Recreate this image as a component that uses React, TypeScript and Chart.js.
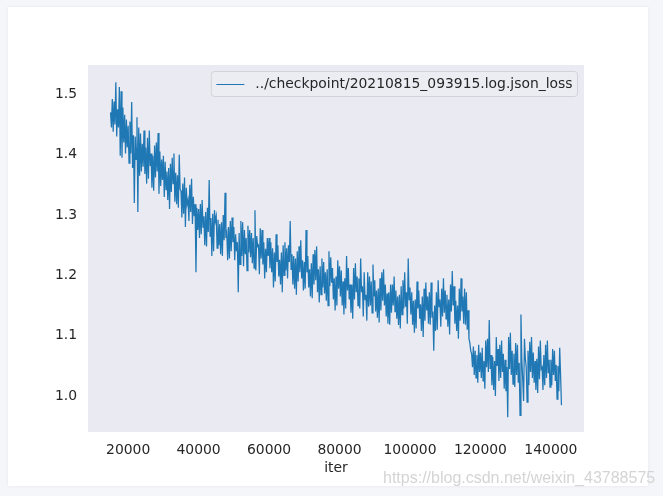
import React, { useEffect, useRef } from "react";
import { Chart, registerables } from "chart.js";

Chart.register(...registerables);

// ---- data ----
const SERIES_LABEL = "../checkpoint/20210815_093915.log.json_loss";
const X_TITLE = "iter";
const ITER_START = 15000;
const ITER_STEP = 250;
const X_TICKS = [20000, 40000, 60000, 80000, 100000, 120000, 140000];
const Y_TICKS = [1.0, 1.1, 1.2, 1.3, 1.4, 1.5];
const X_RANGE = [8600, 149400];
const Y_RANGE = [0.9405, 1.5485];

// loss values every 250 iterations from 15000 to 143000
const LOSS = [
  1.470, 1.445, 1.492, 1.438, 1.488, 1.450, 1.520, 1.430, 1.475, 1.445, 1.512, 1.398, 1.505, 1.395, 1.478, 1.420, 1.466, 1.402, 1.458, 1.412,
  1.448, 1.386, 1.455, 1.402, 1.487, 1.378, 1.432, 1.320, 1.430, 1.392, 1.462, 1.305, 1.445, 1.365, 1.435, 1.372, 1.418, 1.380, 1.440, 1.368,
  1.412, 1.352, 1.428, 1.360, 1.440, 1.381, 1.402, 1.345, 1.398, 1.340, 1.415, 1.362, 1.420, 1.372, 1.436, 1.335, 1.405, 1.348, 1.392, 1.358,
  1.398, 1.330, 1.388, 1.342, 1.372, 1.325, 1.378, 1.310, 1.385, 1.338, 1.395, 1.352, 1.402, 1.322, 1.370, 1.318, 1.366, 1.312, 1.400, 1.342,
  1.340, 1.296, 1.352, 1.302, 1.362, 1.280, 1.345, 1.318, 1.325, 1.290, 1.350, 1.305, 1.360, 1.285, 1.330, 1.298, 1.318, 1.205, 1.312, 1.275,
  1.310, 1.262, 1.318, 1.268, 1.325, 1.280, 1.298, 1.250, 1.305, 1.248, 1.312, 1.272, 1.358, 1.265, 1.295, 1.232, 1.302, 1.240, 1.308, 1.290,
  1.298, 1.245, 1.292, 1.250, 1.285, 1.235, 1.288, 1.232, 1.300, 1.258, 1.337, 1.262, 1.270, 1.225, 1.280, 1.228, 1.290, 1.240, 1.296, 1.255,
  1.280, 1.225, 1.268, 1.240, 1.255, 1.172, 1.270, 1.218, 1.290, 1.232, 1.288, 1.215, 1.275, 1.235, 1.262, 1.208, 1.282, 1.238, 1.275, 1.230,
  1.270, 1.220, 1.262, 1.212, 1.308, 1.208, 1.265, 1.248, 1.250, 1.202, 1.278, 1.228, 1.275, 1.218, 1.255, 1.195, 1.244, 1.205, 1.262, 1.232,
  1.262, 1.212, 1.255, 1.205, 1.245, 1.180, 1.238, 1.190, 1.268, 1.222, 1.250, 1.198, 1.226, 1.185, 1.238, 1.172, 1.250, 1.200, 1.255, 1.208,
  1.245, 1.195, 1.250, 1.222, 1.290, 1.210, 1.235, 1.185, 1.232, 1.178, 1.228, 1.168, 1.240, 1.190, 1.248, 1.205, 1.258, 1.195, 1.225, 1.175,
  1.222, 1.178, 1.275, 1.205, 1.232, 1.180, 1.210, 1.165, 1.220, 1.162, 1.235, 1.185, 1.242, 1.192, 1.248, 1.172, 1.210, 1.155, 1.215, 1.168,
  1.228, 1.180, 1.222, 1.170, 1.205, 1.158, 1.210, 1.150, 1.240, 1.182, 1.230, 1.188, 1.212, 1.160, 1.195, 1.142, 1.198, 1.150, 1.225, 1.178,
  1.215, 1.165, 1.208, 1.150, 1.190, 1.135, 1.195, 1.145, 1.232, 1.175, 1.212, 1.160, 1.185, 1.138, 1.185, 1.128, 1.212, 1.160, 1.220, 1.172,
  1.198, 1.150, 1.195, 1.145, 1.228, 1.172, 1.182, 1.132, 1.205, 1.160, 1.168, 1.125, 1.205, 1.148, 1.198, 1.150, 1.190, 1.138, 1.218, 1.165,
  1.192, 1.140, 1.175, 1.130, 1.178, 1.122, 1.195, 1.142, 1.205, 1.158, 1.210, 1.150, 1.185, 1.132, 1.170, 1.120, 1.172, 1.118, 1.185, 1.138,
  1.185, 1.150, 1.198, 1.140, 1.175, 1.128, 1.165, 1.118, 1.168, 1.112, 1.182, 1.135, 1.192, 1.145, 1.205, 1.148, 1.172, 1.120, 1.228, 1.160,
  1.180, 1.135, 1.172, 1.118, 1.158, 1.105, 1.160, 1.112, 1.190, 1.145, 1.175, 1.128, 1.152, 1.108, 1.165, 1.098, 1.178, 1.125, 1.188, 1.142,
  1.165, 1.120, 1.172, 1.118, 1.188, 1.130, 1.140, 1.075, 1.150, 1.108, 1.172, 1.110, 1.192, 1.148, 1.160, 1.115, 1.178, 1.132, 1.195, 1.138,
  1.175, 1.128, 1.168, 1.115, 1.160, 1.102, 1.185, 1.140, 1.207, 1.150, 1.182, 1.120, 1.158, 1.108, 1.150, 1.095, 1.178, 1.125, 1.195, 1.140,
  1.165, 1.120, 1.178, 1.118, 1.172, 1.110, 1.142, 1.095, 1.088, 1.075, 1.070, 1.048, 1.082, 1.035, 1.075, 1.030, 1.068, 1.022, 1.085, 1.040,
  1.072, 1.030, 1.080, 1.025, 1.058, 1.012, 1.092, 1.048, 1.095, 1.040, 1.126, 1.045, 1.068, 1.018, 1.065, 1.010, 1.058, 1.000, 1.098, 1.050,
  1.078, 1.025, 1.085, 1.030, 1.092, 1.040, 1.070, 1.012, 1.060, 1.008, 1.048, 0.965, 1.098, 1.045, 1.105, 1.035, 1.075, 1.020, 1.070, 1.015,
  1.088, 1.035, 1.085, 1.022, 1.055, 0.968, 1.135, 1.060, 1.028, 0.992, 1.095, 1.062, 1.048, 0.990, 1.075, 1.018, 1.090, 1.040, 1.098, 1.030,
  1.072, 1.022, 1.058, 1.010, 1.062, 1.005, 1.082, 1.028, 1.092, 1.045, 1.048, 1.010, 1.068, 1.018, 1.085, 1.030, 1.092, 1.038, 1.060, 1.015,
  1.060, 1.018, 1.078, 1.035, 1.075, 1.025, 1.052, 0.995, 1.050, 1.008, 1.080, 1.035, 0.985,
];

const LINE_COLOR = "#1f77b4";
const TEXT_COLOR = "#262626";
const FONT_FAMILY = "'DejaVu Sans', sans-serif";
const FONT_SIZE = 13.9;

const bgPlugin = {
  id: "axesBg",
  beforeDraw(chart: any) {
    const { ctx, chartArea } = chart;
    ctx.save();
    ctx.fillStyle = "#EAEAF2";
    ctx.fillRect(chartArea.left, chartArea.top, chartArea.right - chartArea.left, chartArea.bottom - chartArea.top);
    ctx.restore();
  },
};

const legendPlugin = {
  id: "mplLegend",
  afterDraw(chart: any) {
    const { ctx, chartArea } = chart;
    ctx.save();
    ctx.font = `${FONT_SIZE}px ${FONT_FAMILY}`;
    const textW = ctx.measureText(SERIES_LABEL).width;
    const right = chartArea.right - 6.5;
    const top = chartArea.top + 6.5;
    const h = 25;
    const w = textW + 49;
    const left = right - w;
    const r = 3;
    ctx.beginPath();
    ctx.moveTo(left + r, top);
    ctx.lineTo(right - r, top);
    ctx.arcTo(right, top, right, top + r, r);
    ctx.lineTo(right, top + h - r);
    ctx.arcTo(right, top + h, right - r, top + h, r);
    ctx.lineTo(left + r, top + h);
    ctx.arcTo(left, top + h, left, top + h - r, r);
    ctx.lineTo(left, top + r);
    ctx.arcTo(left, top, left + r, top, r);
    ctx.closePath();
    ctx.fillStyle = "rgba(236,236,243,0.9)";
    ctx.fill();
    ctx.strokeStyle = "#D2D2D8";
    ctx.lineWidth = 1;
    ctx.stroke();
    const cy = top + h / 2;
    ctx.strokeStyle = LINE_COLOR;
    ctx.lineWidth = 1;
    ctx.beginPath();
    ctx.moveTo(left + 5, Math.round(cy) + 0.5);
    ctx.lineTo(left + 33, Math.round(cy) + 0.5);
    ctx.stroke();
    ctx.fillStyle = TEXT_COLOR;
    ctx.textBaseline = "middle";
    ctx.textAlign = "left";
    ctx.fillText(SERIES_LABEL, left + 44, cy);
    ctx.restore();
  },
};

export default function App() {
  const ref = useRef<HTMLCanvasElement>(null);

  useEffect(() => {
    if (!ref.current) return;
    const points = LOSS.map((y, i) => ({ x: ITER_START + i * ITER_STEP, y }));
    const chart = new Chart(ref.current, {
      type: "line",
      data: {
        datasets: [
          {
            label: SERIES_LABEL,
            data: points,
            borderColor: LINE_COLOR,
            borderWidth: 1.25,
            pointRadius: 0,
            tension: 0,
            fill: false,
          },
        ],
      },
      options: {
        animation: false,
        responsive: false,
        maintainAspectRatio: false,
        events: [],
        layout: { padding: { left: 0, top: 65, right: 79, bottom: 0 } },
        plugins: {
          legend: { display: false },
          tooltip: { enabled: false },
          title: { display: false },
        },
        scales: {
          x: {
            type: "linear",
            min: X_RANGE[0],
            max: X_RANGE[1],
            afterBuildTicks: (scale: any) => {
              scale.ticks = X_TICKS.map((v) => ({ value: v }));
            },
            afterFit: (scale: any) => {
              scale.height = 64;
            },
            grid: { display: false, drawTicks: false },
            border: { display: false },
            ticks: {
              autoSkip: false,
              maxRotation: 0,
              padding: 10,
              color: TEXT_COLOR,
              font: { family: FONT_FAMILY, size: FONT_SIZE },
              callback: (v: any) => String(v),
            },
            title: {
              display: true,
              text: X_TITLE,
              color: TEXT_COLOR,
              font: { family: FONT_FAMILY, size: FONT_SIZE },
              padding: { top: 0, bottom: 19 },
            },
          },
          y: {
            type: "linear",
            min: Y_RANGE[0],
            max: Y_RANGE[1],
            afterBuildTicks: (scale: any) => {
              scale.ticks = Y_TICKS.map((v) => ({ value: v }));
            },
            afterFit: (scale: any) => {
              scale.width = 88;
            },
            grid: { display: false, drawTicks: false },
            border: { display: false },
            ticks: {
              padding: 11,
              color: TEXT_COLOR,
              font: { family: FONT_FAMILY, size: FONT_SIZE },
              callback: (v: any) => Number(v).toFixed(1),
            },
          },
        },
      },
      plugins: [bgPlugin, legendPlugin],
    });
    return () => chart.destroy();
  }, []);

  return (
    <div
      style={{
        position: "fixed",
        left: 0,
        top: 0,
        width: 663,
        height: 496,
        background: "#F5F6F9",
        overflow: "hidden",
      }}
    >
      <div
        style={{
          position: "absolute",
          left: 8,
          top: 7,
          width: 640,
          height: 479,
          background: "#FFFFFF",
          boxShadow: "0 0 4px rgba(0,0,0,0.06)",
        }}
      />
      <canvas
        ref={ref}
        width={663}
        height={496}
        style={{ position: "absolute", left: 0, top: 0, width: 663, height: 496 }}
      />
      <div
        style={{
          position: "absolute",
          left: 383,
          top: 469,
          fontFamily: "'Liberation Sans', Arial, sans-serif",
          fontSize: 16,
          lineHeight: "18px",
          color: "rgba(205,205,205,0.85)",
          whiteSpace: "nowrap",
          textShadow: "0 0 1px rgba(255,255,255,0.6)",
        }}
      >
        https://blog.csdn.net/weixin_43788575
      </div>
    </div>
  );
}
